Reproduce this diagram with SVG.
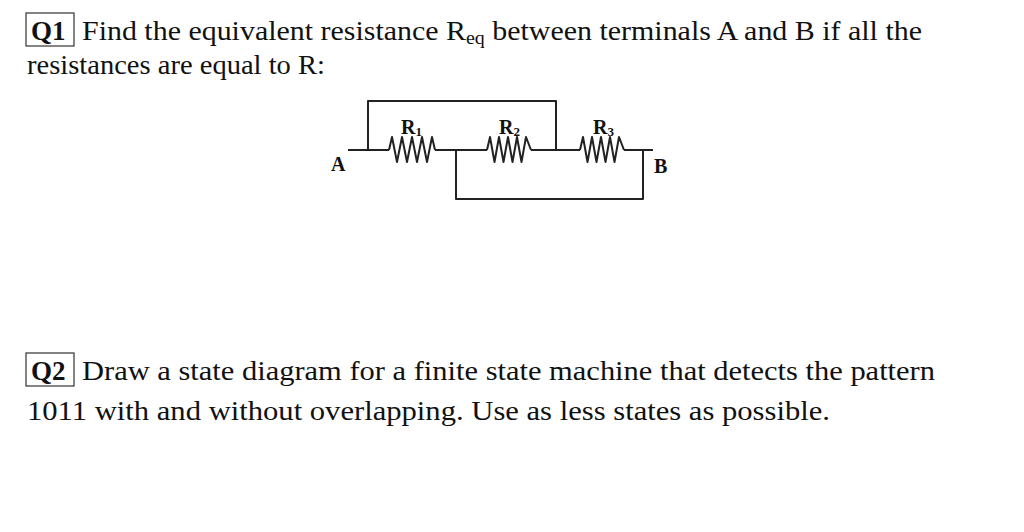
<svg xmlns="http://www.w3.org/2000/svg" width="1024" height="532" viewBox="0 0 1024 532">
<style>
.t{font-family:"Liberation Serif","DejaVu Serif",serif;font-size:27px;fill:#111}
.b{font-weight:bold}
.w{fill:none;stroke:#222;stroke-width:2;stroke-linejoin:round}
.l{font-family:"Liberation Serif",serif;font-weight:bold;font-size:20px;fill:#111}
.box{fill:none;stroke:#333;stroke-width:1.2}
</style>
<rect width="1024" height="532" fill="#fff"/>
<g id="q1">
<rect class="box" x="26" y="13" width="48" height="33"/>
<text class="t b" x="31" y="40">Q1</text>
<text class="t" x="82" y="40" textLength="840" lengthAdjust="spacingAndGlyphs">Find the equivalent resistance R<tspan font-size="18" dy="4">eq</tspan><tspan dy="-4"> between terminals A and B if all the</tspan></text>
<text class="t" x="27" y="74" textLength="298" lengthAdjust="spacingAndGlyphs">resistances are equal to R:</text>
</g>
<g id="connectors">
<path class="w" d="M348 150H389 M435 150H487 M531 150H580 M624 150H653"/>
<path class="w" d="M368 150V101H556V150"/>
<path class="w" d="M456 150V199H643V150"/>
<path class="w" d="M389 150L392 137L397 162L402 137L407 162L412 137L417 162L422 137L427 162L432 137L435 150"/>
<path class="w" d="M487 150L490 137L494.5 162L499 137L503.5 162L508 137L512.5 162L517 137L521.5 162L526 137L531 150"/>
<path class="w" d="M580 150L583 137L587.5 162L592 137L596.5 162L601 137L605.5 162L610 137L614.5 162L619 137L624 150"/>
</g>
<g id="labels">
<text class="l" x="401" y="134">R<tspan font-size="13" dy="2">1</tspan></text>
<text class="l" x="499" y="134">R<tspan font-size="13" dy="2">2</tspan></text>
<text class="l" x="593" y="134">R<tspan font-size="13" dy="2">3</tspan></text>
<text class="l" x="331" y="171">A</text>
<text class="l" x="654" y="173">B</text>
</g>
<g id="q2">
<rect class="box" x="26" y="353" width="48" height="33"/>
<text class="t b" x="31" y="380">Q2</text>
<text class="t" x="82" y="380" textLength="853" lengthAdjust="spacingAndGlyphs">Draw a state diagram for a finite state machine that detects the pattern</text>
<text class="t" x="27" y="420" textLength="803" lengthAdjust="spacingAndGlyphs">1011 with and without overlapping. Use as less states as possible.</text>
</g>
</svg>
